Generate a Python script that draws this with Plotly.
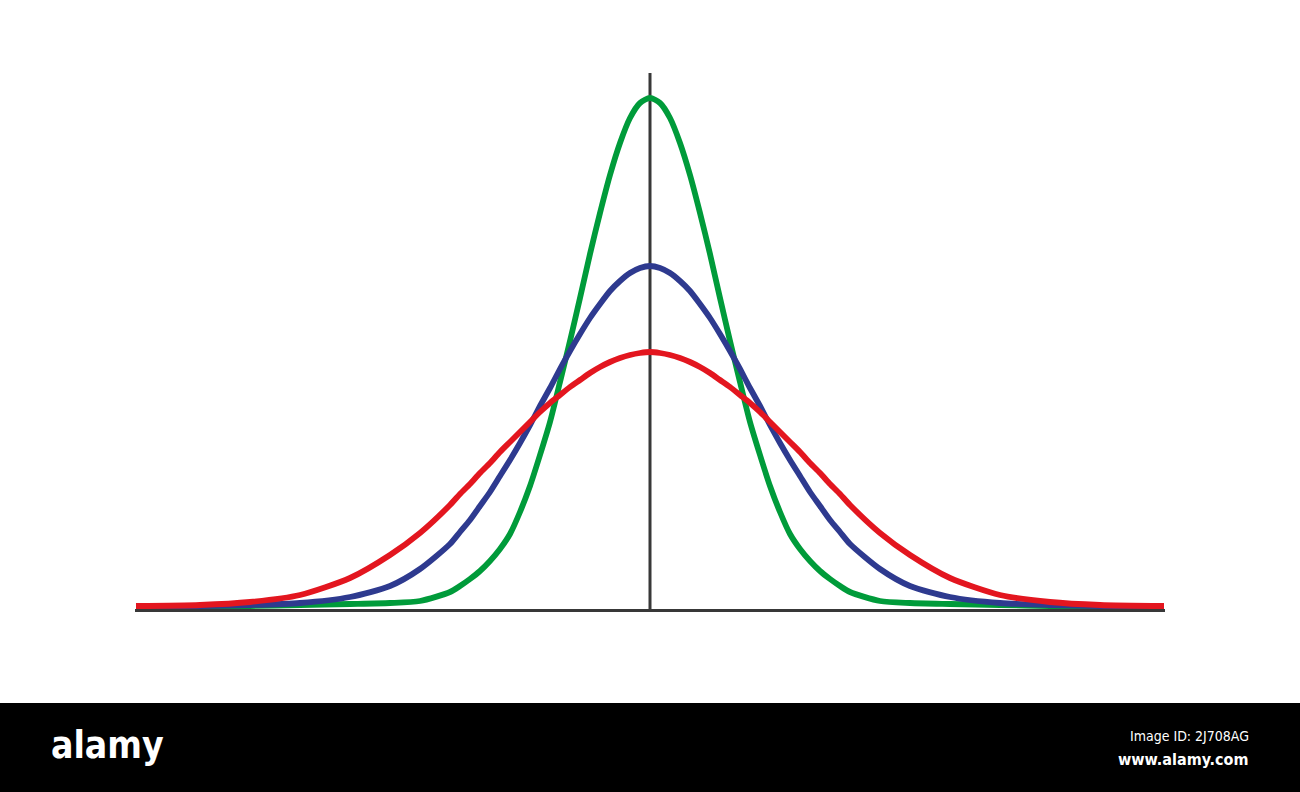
import plotly.graph_objects as go

# offsets from the centre line (px-ish units) and curve heights
x_right = [0, 10, 20, 30, 40, 50, 60, 70, 80, 90, 100, 110, 120, 130, 140, 150, 160, 170,
           180, 190, 200, 230, 260, 300, 350, 400, 450, 514]

green_right = [508, 503, 488, 463, 431, 393, 352, 308, 265, 224, 184, 151, 120, 94, 72, 57, 45, 35,
               27, 20, 14, 5, 3, 2, 1, 0, 0, 0]
blue_right = [340, 338, 333, 325, 315, 302, 288, 272, 255, 237, 218, 200, 181, 163, 146, 130, 114, 100,
              86, 74, 62, 37, 20, 9, 3, 1, 0, 0]
red_right = [254, 253, 251, 248, 244, 239, 233, 226, 219, 211, 203, 194, 184, 174, 164, 154, 143, 133,
             122, 112, 101, 73, 51, 28, 11, 4, 1, 0]


def mirror(xs, ys):
    # curves are symmetric around the vertical axis
    xs_full = [-v for v in xs[:0:-1]] + xs
    ys_full = ys[:0:-1] + ys
    return xs_full, ys_full


curves = [
    ("green", green_right, "#009b3a"),
    ("blue", blue_right, "#2e3a8f"),
    ("red", red_right, "#e3161f"),
]

fig = go.Figure()
for name, ys, col in curves:
    xx, yy = mirror(x_right, ys)
    fig.add_trace(go.Scatter(x=xx, y=yy, name=name, mode="lines",
                             line=dict(color=col, width=5.8, shape="spline", smoothing=0.7),
                             hoverinfo="skip"))

axis_col = "#383838"
fig.add_shape(type="line", x0=-515, x1=515, y0=-4.5, y1=-4.5,
              line=dict(color=axis_col, width=3), layer="below")
fig.add_shape(type="line", x0=0, x1=0, y0=-4.5, y1=533,
              line=dict(color=axis_col, width=3), layer="below")

# black footer band
fig.add_shape(type="rect", xref="paper", yref="paper", x0=0, x1=1, y0=0, y1=89 / 792,
              fillcolor="black", line=dict(width=0), layer="above")

narrow = "DejaVu Sans Condensed, Liberation Sans Narrow, sans-serif"
fig.add_annotation(text="<b>alamy</b>", xref="paper", yref="paper", x=49 / 1300, y=(792 - 745) / 792,
                   xanchor="left", yanchor="middle", showarrow=False,
                   font=dict(family=narrow, size=37, color="white"))
fig.add_annotation(text="Image ID: 2J708AG", xref="paper", yref="paper", x=1251 / 1300, y=(792 - 736) / 792,
                   xanchor="right", yanchor="middle", showarrow=False,
                   font=dict(family=narrow, size=14, color="white"))
fig.add_annotation(text="<b>www.alamy.com</b>", xref="paper", yref="paper", x=1251 / 1300, y=(792 - 759) / 792,
                   xanchor="right", yanchor="middle", showarrow=False,
                   font=dict(family=narrow, size=16, color="white"))

fig.update_layout(
    width=1300, height=792,
    margin=dict(l=0, r=0, t=0, b=0),
    paper_bgcolor="white", plot_bgcolor="white",
    showlegend=False,
    xaxis=dict(range=[-650, 650], visible=False, fixedrange=True),
    yaxis=dict(range=[-186, 606], visible=False, fixedrange=True),
)

# drop the default page margin so the figure sits flush with the window
fig.write_html("out.html", config={"displayModeBar": False},
               post_script="document.body.style.margin='0';")
